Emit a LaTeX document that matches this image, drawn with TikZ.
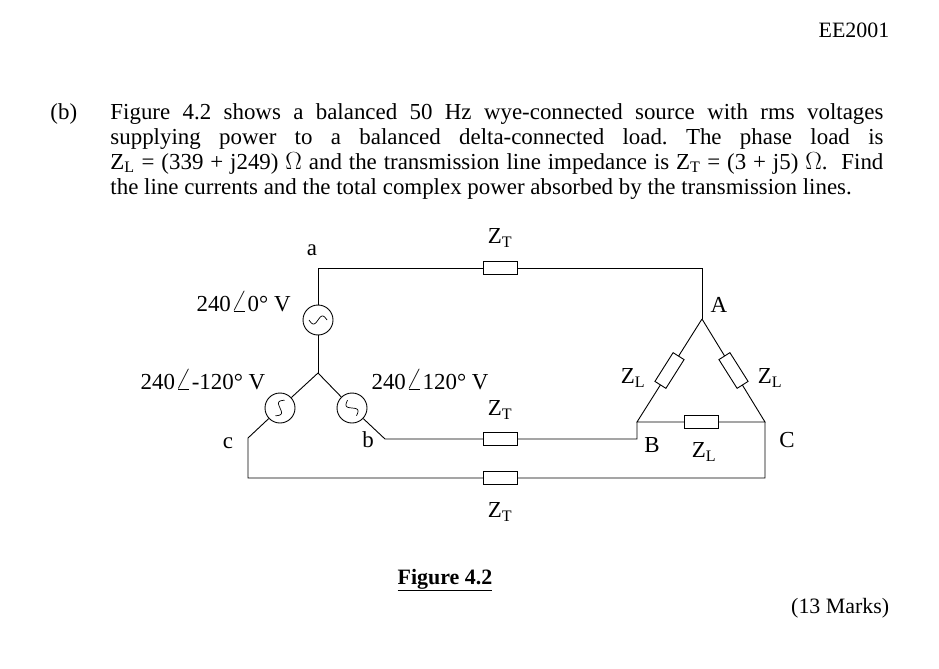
\documentclass[tikz,border=0pt]{standalone}
\usepackage{fontspec}
\setmainfont{Liberation Serif}
\usetikzlibrary{calc}
\newcommand{\ang}{\scalebox{1.25}{$\angle$}}
\begin{document}
\begin{tikzpicture}[x=1bp,y=-1bp,line width=0.9bp,
  res/.style={draw,fill=white,minimum width=34bp,minimum height=13bp,inner sep=0pt},
  lbl/.style={font=\fontsize{23}{26}\selectfont,inner sep=1bp},
  src/.style={draw,fill=white,circle,minimum size=30bp,inner sep=0pt}]
\useasboundingbox (0,0) rectangle (939,669);
\node[anchor=east,font=\fontsize{22}{24}\selectfont] (ee) at (893,30) {EE2001};
\node[anchor=north west,font=\fontsize{23}{24}\selectfont,inner sep=0pt] (bb) at (50,103) {(b)};
\node[anchor=north west,inner sep=0pt,font=\fontsize{23}{25}\selectfont] (txt) at (110,103)
 {\parbox{773bp}{\frenchspacing\hyphenpenalty=10000 Figure 4.2 shows a balanced 50 Hz wye-connected source with rms voltages\linebreak supplying power to a balanced delta-connected load. The phase load is\linebreak Z\textsubscript{L} = (339 + j249) $\Omega$ and the transmission line impedance is Z\textsubscript{T} = (3 + j5) $\Omega$.\ \ Find\linebreak the line currents and the total complex power absorbed by the transmission lines.}};
% coordinates
\coordinate (n) at (318,373);
\coordinate (ta) at (318,268);
\coordinate (tA) at (702,268);
\coordinate (A) at (702,319);
\coordinate (B) at (637,422);
\coordinate (C) at (765,422);
\coordinate (bk) at (385,439);
\coordinate (Bb) at (637,439);
\coordinate (ck) at (248,438);
\coordinate (cb) at (248,478);
\coordinate (Cb) at (765,478);
\node[src] (sa) at (318,320) {};
\node[src] (sc) at (280,408) {};
\node[src] (sb) at (352,408) {};
\draw (n) -- (sa) -- (ta) -- (tA) -- (A);
\draw (n) -- (sc) -- (ck) -- (cb) -- (Cb) -- (C);
\draw (n) -- (sb) -- (bk) -- (Bb) -- (B);
\draw (A) -- (B) -- (C) -- (A);
\node[res] (rt) at (500,268) {};
\node[res] (rm) at (500,439) {};
\node[res] (rb) at (500,478) {};
\node[res] (rbc) at (701,422) {};
\node[res,rotate=57.7] (rab) at ($(A)!0.5!(B)$) {};
\node[res,rotate=-57.7] (rac) at ($(A)!0.5!(C)$) {};
% sine waves
\draw[line width=0.7bp,shift={(sa.center)}] plot[domain=-9:9,samples=30] (\x,{-4*sin(20*\x)});
\begin{scope}[shift={(sc.center)},rotate=-30+90]
\draw[line width=0.7bp] plot[domain=-9:9,samples=30] (\x,{-4*sin(20*\x)});
\end{scope}
\begin{scope}[shift={(sb.center)},rotate=30+90]
\draw[line width=0.7bp] plot[domain=-9:9,samples=30] (\x,{-4*sin(20*\x)});
\end{scope}
% labels
\node[lbl] (la) at (312,250) {a};
\node[lbl,anchor=east] (va) at (292,302) {240\ang0° V};
\node[lbl] (vc) at (203,380) {240\ang-120° V};
\node[lbl] (vb) at (430,380) {240\ang120° V};
\node[lbl] (zt1) at (500,238) {Z\textsubscript{T}};
\node[lbl] (zt2) at (500,410) {Z\textsubscript{T}};
\node[lbl] (zt3) at (500,512) {Z\textsubscript{T}};
\node[lbl] (lb) at (368,440) {b};
\node[lbl] (lc) at (228,443) {c};
\node[lbl] (lA) at (719,305) {A};
\node[lbl] (lB) at (652,445) {B};
\node[lbl] (lC) at (787,440) {C};
\node[lbl] (zl1) at (633,378) {Z\textsubscript{L}};
\node[lbl] (zl2) at (770,378) {Z\textsubscript{L}};
\node[lbl] (zl3) at (704,452) {Z\textsubscript{L}};
\node[font=\fontsize{22}{24}\selectfont\bfseries] (fig) at (445,580) {\underline{Figure 4.2}};
\node[anchor=east,font=\fontsize{22}{24}\selectfont] (mk) at (893,608) {(13 Marks)};
\end{tikzpicture}
\end{document}
